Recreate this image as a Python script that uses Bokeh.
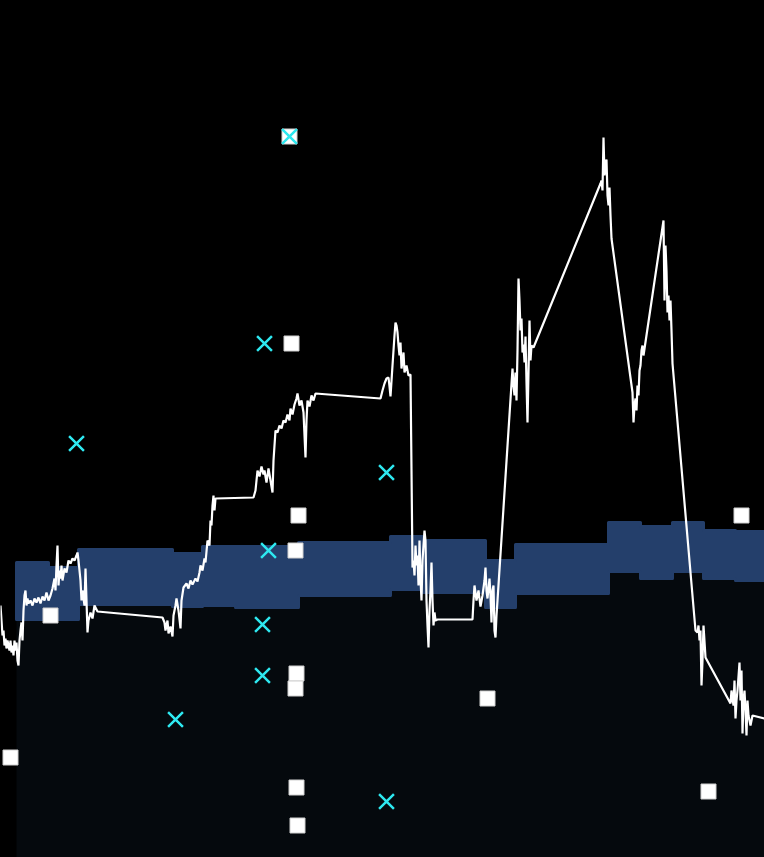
from bokeh.plotting import figure
from bokeh.models import Range1d
from bokeh.embed import file_html
from bokeh.resources import INLINE

# --- price path (x = bar index, y = level, axis inverted) ---
price_x = [0,2,3,4,5,6,7,8,9,10,11,12,13,14,15,16,17,18,19,20,21,22,23,24,25,26,27,28,30,32,34,36,38,40,42,44,46,48,50,52,54,55,56,57,58,59,60,61,62,64,66,68,70,72,74,76,77,78,80,81,82,84,85,86,87,88,90,92,94,97,
           162,164,165,167,168,170,172,173,175,176,178,180,181,183,186,188,190,192,195,197,199,200,202,204,205,207,209,210,211,212,213,214,215,
           253,255,257,259,261,263,264,266,268,270,272,273,275,277,279,281,283,285,287,289,290,292,294,296,297,299,301,303,305,306,307,309,311,313,315,
           380,382,384,386,388,389,390,392,393,394,395,396,397,398,399,400,401,402,403,404,406,408,410,
           411,412,413,414,415,416,417,418,419,420,421,422,423,424,425,426,427,428,429,430,431,432,433,434,435,437,
           472,473,474,476,478,480,482,484,485,486,487,489,490,491,492,493,494,495,496,497,
           512,513,514,515,516,517,518,519,520,521,522,523,524,525,526,527,528,529,530,531,533,
           600,601,602,603,604,605,606,607,608,609,610,611,
           632,633,634,635,636,637,638,639,640,641,642,643,
           663,664,665,666,667,668,669,670,671,672,
           695,697,698,699,700,701,702,703,705,
           730,731,733,734,735,736,737,739,740,741,742,743,744,745,746,747,748,750,752,764]
price_y = [605,635,630,645,638,648,640,645,650,640,652,645,655,640,650,642,660,665,640,630,622,640,610,595,590,605,598,603,600,605,598,602,597,603,596,600,592,600,595,588,578,590,565,545,585,570,578,565,580,568,572,560,563,558,560,555,552,560,580,600,590,605,568,600,632,620,612,618,605,611,
           617,622,630,620,633,626,636,615,605,598,610,628,600,587,583,588,580,584,578,581,572,565,570,558,562,540,545,520,525,505,495,510,498,
           497,490,470,476,466,474,470,482,468,480,492,460,430,432,425,428,420,422,414,420,408,414,404,398,393,405,400,412,457,420,400,406,395,400,393,
           398,390,383,378,377,386,396,365,350,335,322,325,332,345,355,342,368,360,352,372,365,375,374,
           470,567,560,575,545,565,555,585,540,578,600,560,545,530,540,600,625,647,610,590,562,600,625,612,620,619,
           619,600,585,600,590,606,595,580,567,590,598,578,595,622,590,585,630,637,615,600,
           368,385,395,372,400,350,278,300,330,318,352,344,362,336,382,422,372,320,360,345,347,
           183,180,190,137,175,165,159,195,205,187,215,238,
           392,422,405,398,410,385,395,370,365,350,345,355,
           220,300,245,270,312,295,320,300,330,363,
           630,632,625,640,630,685,660,625,657,
           703,690,705,680,718,700,690,662,700,670,733,700,690,710,735,700,715,725,715,718]

# --- value band (step segments) ---
band_left  = [16, 48, 78, 172, 202, 235, 298, 390, 422, 485, 515, 608, 640, 672, 703, 735]
band_right = [48, 78, 172, 202, 235, 298, 390, 422, 485, 515, 608, 640, 672, 703, 735, 764]
band_upper = [562, 567, 549, 553, 546, 546, 542, 536, 540, 560, 544, 522, 526, 522, 530, 531]
band_lower = [619, 619, 604, 606, 605, 607, 595, 589, 592, 607, 593, 571, 578, 571, 578, 580]
floor_level = 870

# --- markers ---
square_x = [289, 291, 298, 295, 50, 296, 295, 487, 10, 296, 297, 741, 708]
square_y = [136, 343, 515, 550, 615, 673, 688, 698, 757, 787, 825, 515, 791]
cross_x = [289, 264, 76, 386, 268, 262, 262, 175, 386]
cross_y = [136, 343, 443, 472, 550, 624, 675, 719, 801]

# build step outlines from the segment arrays
upper_x, upper_y, lower_x, lower_y = [], [], [], []
for l, r, u, b in zip(band_left, band_right, band_upper, band_lower):
    upper_x += [l, r]
    upper_y += [u, u]
    lower_x += [l, r]
    lower_y += [b, b]

band_px = upper_x + lower_x[::-1]
band_py = upper_y + lower_y[::-1]
floor_px = lower_x + [band_right[-1], band_left[0]]
floor_py = lower_y + [floor_level, floor_level]

p = figure(width=764, height=857, x_range=Range1d(0, 764), y_range=Range1d(857, 0),
           output_backend="svg", toolbar_location=None, min_border=0,
           background_fill_color="#000000", border_fill_color="#000000",
           outline_line_color=None)
p.axis.visible = False
p.grid.visible = False

p.patch(floor_px, floor_py, fill_color="#05090d", line_color=None)
p.patch(band_px, band_py, fill_color="#243f6b", line_color="#243f6b",
        line_width=3, line_join="round")
p.line(price_x, price_y, line_color="#ffffff", line_width=2.2)
p.scatter(square_x, square_y, marker="square", size=15, fill_color="#ffffff",
          line_color="#d0d0d0", line_width=1)
p.scatter(cross_x, cross_y, marker="x", size=21, line_color="#2ee8f0", line_width=2.5)

html = file_html(p, INLINE)
style = "<style>html,body{margin:0;padding:0;background:#000000;overflow:hidden;}</style>"
if "</head>" in html:
    html = html.replace("</head>", style + "</head>", 1)
open("out.html", "w").write(html)
